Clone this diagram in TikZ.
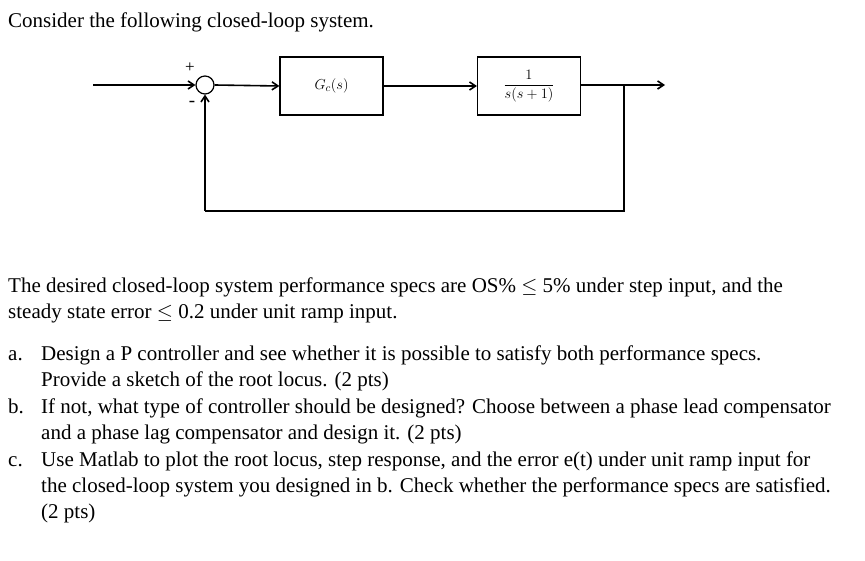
\documentclass[tikz,border=0pt]{standalone}
\usepackage{fontspec}
\setmainfont{Liberation Serif}
\usetikzlibrary{arrows.meta}
\begin{document}
\begin{tikzpicture}[x=1pt,y=-1pt,
  txt/.style={anchor=base west,inner sep=0pt,font=\fontsize{21}{24}\selectfont},
  blk/.style={draw,line width=1.2pt,minimum width=103pt,minimum height=58pt,inner sep=0pt},
  sig/.style={line width=1.6pt,-{Straight Barb[length=6pt,width=8pt]}},
  wire/.style={line width=1.6pt}]
\useasboundingbox (0,0) rectangle (865,561);
\node[txt] (t0) at (8,28) {Consider the following closed-loop system.};
\node[draw,circle,line width=1.2pt,minimum size=18pt,inner sep=0pt] (sum) at (205,85) {};
\node[blk] (gc) at (331.5,86) {\fontsize{15}{17}\selectfont$G_c(s)$};
\node[blk] (pl) at (529,86) {\fontsize{15}{17}\selectfont$\displaystyle\frac{1}{s(s+1)}$};
\coordinate (in) at (93,85);
\coordinate (br) at (624,85);
\coordinate (out) at (665,85);
\coordinate (c1) at (624,211);
\coordinate (c2) at (205,211);
\node[font=\fontsize{17}{18}\selectfont,inner sep=0pt] (plus) at (190,68) {+};
\node[font=\fontsize{19}{18}\selectfont,inner sep=0pt] (minus) at (192,104) {-};
\draw[sig] (in) -- (sum.west);
\draw[sig] (sum.east) -- (gc.west);
\draw[sig] (gc.east) -- (pl.west);
\draw[sig] (pl.east |- br) -- (out);
\draw[wire] (br) -- (c1) -- (c2);
\draw[sig] (c2) -- (sum.south);
\node[txt] (p1) at (8,293) {The desired closed-loop system performance specs are OS\% $\leq$ 5\% under step input, and the};
\node[txt] (p2) at (8,319) {steady state error $\leq$ 0.2 under unit ramp input.};
\node[txt] (la) at (8,360) {a.};
\node[txt] (a1) at (41,360) {Design a P controller and see whether it is possible to satisfy both performance specs.};
\node[txt] (a2) at (41,386) {Provide a sketch of the root locus. (2 pts)};
\node[txt] (lb) at (8,413) {b.};
\node[txt] (b1) at (41,413) {If not, what type of controller should be designed? Choose between a phase lead compensator};
\node[txt] (b2) at (41,439) {and a phase lag compensator and design it. (2 pts)};
\node[txt] (lc) at (8,466) {c.};
\node[txt] (c1t) at (41,466) {Use Matlab to plot the root locus, step response, and the error e(t) under unit ramp input for};
\node[txt] (c2t) at (41,492) {the closed-loop system you designed in b. Check whether the performance specs are satisfied.};
\node[txt] (c3t) at (41,518) {(2 pts)};
\end{tikzpicture}
\end{document}
